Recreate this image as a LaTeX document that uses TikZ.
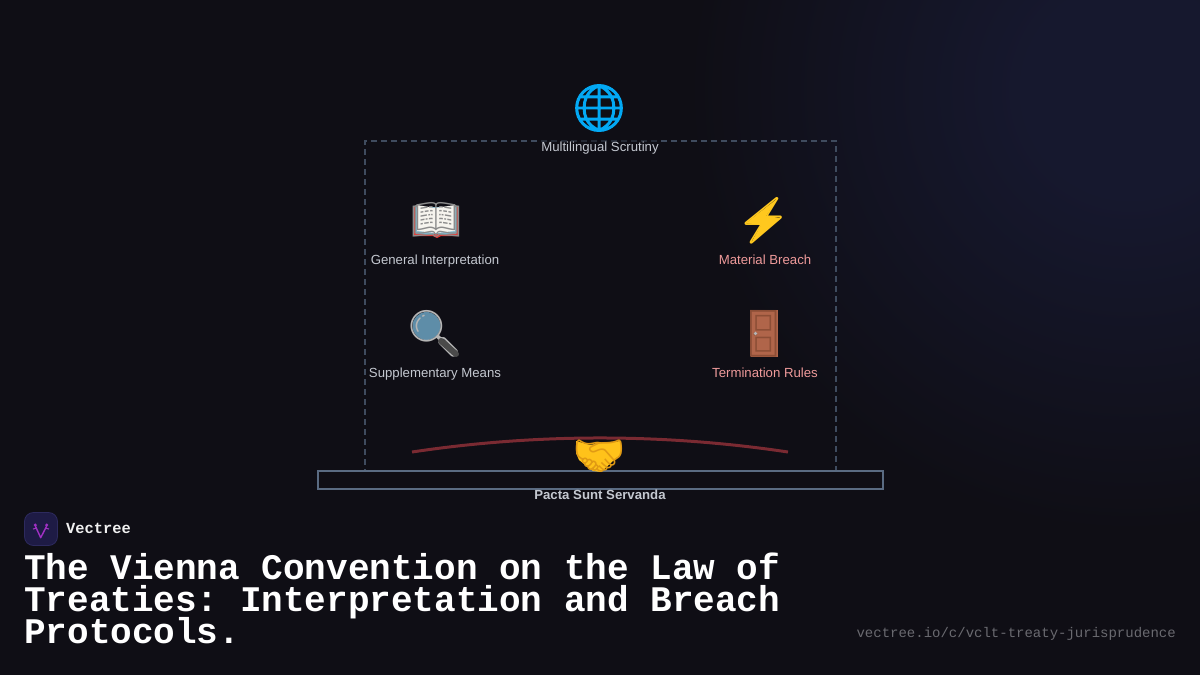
\documentclass[tikz,border=0pt]{standalone}
\usepackage{fontspec}
\setmainfont{Liberation Sans}
\setmonofont{Liberation Mono}
\newfontfamily\emojifont{Noto Emoji}
\newfontfamily\emojibold[FakeBold=2.6]{Noto Emoji}
\definecolor{bgbase}{HTML}{0F0E15}
\definecolor{glow}{HTML}{16182E}
\definecolor{dashc}{HTML}{3F4B5E}
\definecolor{barc}{HTML}{5A6B82}
\definecolor{arcc}{HTML}{7A2A32}
\definecolor{labc}{HTML}{C4C8D0}
\definecolor{redlab}{HTML}{EE9A9A}
\definecolor{logoc}{HTML}{1E1B45}
\definecolor{logob}{HTML}{2D2A5E}
\definecolor{logop}{HTML}{A030C4}
\definecolor{globec}{HTML}{03A9F4}
\definecolor{boltc}{HTML}{FFC81E}
\definecolor{bookc}{HTML}{F6F4EE}
\definecolor{bookr}{HTML}{E53935}
\definecolor{bookb}{HTML}{7FB6CC}
\definecolor{lensc}{HTML}{5E8DA8}
\definecolor{lensr}{HTML}{B5B5B5}
\definecolor{handlec}{HTML}{4A4A4A}
\definecolor{doorc}{HTML}{B0654A}
\definecolor{doord}{HTML}{8C4E36}
\definecolor{shakec}{HTML}{FFC21A}
\definecolor{shaked}{HTML}{E09A14}
\definecolor{urlc}{HTML}{6A6A70}
\pgfdeclareradialshading{glowshade}{\pgfpoint{0bp}{0bp}}{color(0bp)=(glow); color(4bp)=(glow); color(10bp)=(bgbase!45!glow); color(17bp)=(bgbase); color(50bp)=(bgbase)}
\tikzset{
 lab/.style={font=\fontsize{13.2}{16}\selectfont,text=labc,inner sep=0pt,anchor=base},
 redl/.style={lab,text=redlab},
 emo/.style={font=\emojifont\fontsize{46}{46}\selectfont,inner sep=0pt,anchor=center},
 emob/.style={font=\emojibold\fontsize{46}{46}\selectfont,inner sep=0pt,anchor=center},
 title/.style={font=\ttfamily\bfseries\fontsize{36}{36}\selectfont,text=white,inner sep=0pt,anchor=base west},
}
\begin{document}
\begin{tikzpicture}[x=1pt,y=-1pt]
\useasboundingbox (0,0) rectangle (1200,675);
\fill[bgbase] (0,0) rectangle (1200,675);
\begin{scope}
\clip (0,0) rectangle (1200,675);
\node[inner sep=0pt,shading=glowshade,minimum width=1300pt,minimum height=1300pt,draw=none] at (1130,90) {};
\end{scope}
\node[draw=dashc,line width=2pt,dash pattern=on 6pt off 4pt,minimum width=471pt,minimum height=330pt,inner sep=0pt] (frame) at (600,306) {};
\coordinate (al) at (412,452);
\coordinate (ar) at (788,452);
\draw[arcc,line width=3pt] (al) .. controls (537,433.3) and (663,433.3) .. (ar);
\node[draw=barc,fill=bgbase,line width=2pt,minimum width=565pt,minimum height=18.5pt,inner sep=0pt] (bar) at (600,480.2) {};
% globe
\node[emob,text=globec] (globe) at (599,108) {🌐};
\node[lab,fill=bgbase,fill opacity=.55,text opacity=1,inner sep=1.5pt] (lglobe) at (600,151) {Multilingual Scrutiny};
% book
\fill[bookr] (414,207) -- (414,236) -- (433,236) -- (437,238) -- (441,236) -- (458,236) -- (458,207) -- cycle;
\fill[bookb] (416,207) -- (416,233.5) -- (456,233.5) -- (456,207) -- cycle;
\fill[bookc] (417,205) -- (435,208) -- (455,205) -- (455,231) -- (436,233) -- (417,231) -- cycle;
\node[emo,text=black!45,font=\emojifont\fontsize{40}{40}\selectfont] (book) at (436,220) {📖};
\node[lab] (lbook) at (435,264) {General Interpretation};
% bolt
\fill[boltc] (778,198) -- (746,223) -- (761,225) -- (751,243) -- (781,218) -- (766,216) -- cycle;
\node[emo,text=boltc] (bolt) at (764,221) {⚡};
\node[redl] (lbolt) at (765,264) {Material Breach};
% lens
\fill[lensc] (426.5,326) circle (14);
\node[emo,text=lensr] (lens) at (435,334) {🔍};
\draw[handlec,line width=6pt,line cap=round] (441,341) -- (456,354);
\node[lab] (llens) at (435,377) {Supplementary Means};
% door
\fill[doorc] (751,310) rectangle (778,357);
\node[emo,text=doord] (door) at (764,334) {🚪};
\fill[lensr] (755.5,333.5) circle (1.8);
\node[redl] (ldoor) at (765,377) {Termination Rules};
% handshake
\fill[shakec] (576,441) -- (590,445) -- (600,443) -- (621,441) -- (621,454) -- (613,461) -- (601,472) -- (593,471) -- (579,460) -- (576,453) -- cycle;
\node[emo,text=shaked,font=\emojifont\fontsize{42}{42}\selectfont] (shake) at (599,456.5) {🤝};
\node[lab,font=\bfseries\fontsize{13.2}{16}\selectfont] (lbar) at (600,499) {Pacta Sunt Servanda};
% logo
\node[draw=logob,fill=logoc,rounded corners=9pt,minimum size=33pt,inner sep=0pt,line width=.8pt] (logo) at (41,529) {};
\draw[logop,line width=1.4pt,line join=round] (35.3,526) -- (40.7,537.7) -- (46.7,526);
\draw[logop,line width=1.1pt] (33,529) -- (37,528) (49,529) -- (45,528);
\fill[logop] (35.3,525) circle (1.7) (46.7,525) circle (1.7);
\node[font=\ttfamily\bfseries\fontsize{15.4}{16}\selectfont,text=white!88!gray,inner sep=0pt,anchor=base west] (brand) at (66,533) {Vectree};
\node[title] (t1) at (24,579) {The Vienna Convention on the Law of};
\node[title] (t2) at (24,611) {Treaties: Interpretation and Breach};
\node[title] (t3) at (24,643.5) {Protocols.};
\node[font=\ttfamily\fontsize{14}{14}\selectfont,text=urlc,inner sep=0pt,anchor=base east] (url) at (1176,637) {vectree.io/c/vclt-treaty-jurisprudence};
\end{tikzpicture}
\end{document}
